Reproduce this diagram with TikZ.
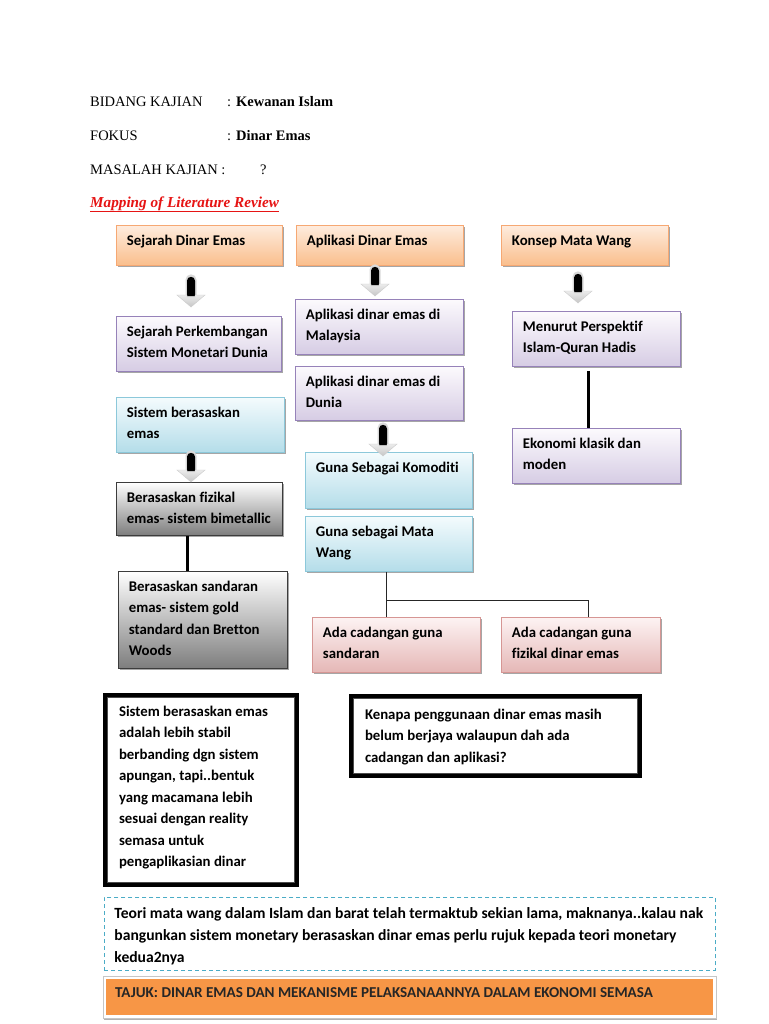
\documentclass[tikz,border=0pt]{standalone}
\usepackage{fontspec}
\usetikzlibrary{shadows,calc}
\newfontfamily\calfont[Ligatures={NoCommon,NoContextual},Contextuals=NoAlternate]{Carlito}
\newfontfamily\tnrfont{Liberation Serif}
\definecolor{or1}{RGB}{254,236,222}
\definecolor{or2}{RGB}{250,190,140}
\definecolor{or3}{RGB}{246,168,115}
\definecolor{pu1}{RGB}{252,250,253}
\definecolor{pu2}{RGB}{214,204,228}
\definecolor{pu3}{RGB}{150,130,185}
\definecolor{bl1}{RGB}{244,251,253}
\definecolor{bl2}{RGB}{180,221,233}
\definecolor{bl3}{RGB}{140,200,218}
\definecolor{gr1}{RGB}{255,255,255}
\definecolor{gr2}{RGB}{125,125,125}
\definecolor{gr3}{RGB}{60,60,60}
\definecolor{pk1}{RGB}{253,243,243}
\definecolor{pk2}{RGB}{229,183,182}
\definecolor{pk3}{RGB}{214,150,148}
\definecolor{tajuk}{RGB}{247,150,70}
\definecolor{dashc}{RGB}{75,172,198}
\definecolor{mapred}{RGB}{230,20,20}
\newcommand\bt[3]{\parbox[c][#2pt][t]{#1pt}{\raggedright\leftskip=10.5pt\rule{0pt}{20pt}#3}}
\newcommand\barrow[5]{%
  \path let \p1=(#1.south), \p2=(#2.north) in
    coordinate (ta) at (#3pt,\y1-#4pt) coordinate (tb) at (#3pt,\y2+#5pt);
  \fill[gray!30] let \p1=(ta), \p2=(tb) in
    (\x1-5.5pt,\y2+9pt) -- (\x1-5.5pt,\y1-1pt) arc[start angle=180,end angle=0,radius=5.5pt] -- (\x1+5.5pt,\y2+9pt) -- cycle;
  \fill[black] let \p1=(ta), \p2=(tb) in
    (\x1-4pt,\y2+11pt) -- (\x1-4pt,\y1-2pt) arc[start angle=180,end angle=0,radius=4pt] -- (\x1+4pt,\y2+11pt) -- cycle;
  \shade[top color=gray!15, bottom color=gray!45, draw=gray!40, line width=0.4pt] let \p1=(ta), \p2=(tb) in
    (\x1-14pt,\y2+12pt) -- (\x1-4pt,\y2+12pt) -- (\x1-4pt,\y2+10pt) -- (\x1+4pt,\y2+10pt) -- (\x1+4pt,\y2+12pt) -- (\x1+14pt,\y2+12pt) -- (\x2,\y2) -- cycle;
}
\tikzset{
  bx/.style={rectangle, inner sep=0pt, anchor=north west, line width=0.8pt,
    font=\calfont\bfseries\fontsize{14.8}{21.5}\selectfont,
    drop shadow={shadow xshift=1.6pt, shadow yshift=-1.8pt, opacity=.35, fill=black}},
  orng/.style={bx, top color=or1, bottom color=or2, draw=or3},
  purp/.style={bx, top color=pu1, bottom color=pu2, draw=pu3},
  blu/.style={bx, top color=bl1, bottom color=bl2, draw=bl3},
  gry/.style={bx, top color=gr1, bottom color=gr2, draw=gr3},
  pnk/.style={bx, top color=pk1, bottom color=pk2, draw=pk3},
  hdr/.style={anchor=base west, inner sep=0pt, font=\tnrfont\fontsize{14.5}{17}\selectfont},
  frm/.style={rectangle, inner sep=0pt, anchor=north west, draw=black, line width=4pt,
    font=\calfont\bfseries\fontsize{14.8}{21.5}\selectfont},
  thickline/.style={line width=2.6pt, black},
  treeline/.style={line width=1.1pt, black!85},
}
\begin{document}
\begin{tikzpicture}[x=1pt,y=-1pt]
\useasboundingbox (0,0) rectangle (768,1024);
\fill[white] (0,0) rectangle (768,1024);
% header
\node[hdr] (bk) at (90,107) {BIDANG KAJIAN};
\node[hdr] (bkv) at (227,107) {: \textbf{Kewanan Islam}};
\node[hdr] (fk) at (90,141) {FOKUS};
\node[hdr] (fkv) at (227,141) {: \textbf{Dinar Emas}};
\node[hdr] (mk) at (90,175) {MASALAH KAJIAN :};
\node[hdr] (mkv) at (260,175) {?};
\node[hdr, text=mapred, font=\tnrfont\fontsize{15.2}{17}\selectfont] (map) at (90,208) {\textbf{\textit{Mapping of Literature Review}}};
\draw[mapred, line width=0.9pt] (90,211) -- (map.base east |- 0,211);
% top row
\node[orng] (sde) at (116,225) {\bt{166}{40}{Sejarah Dinar Emas}};
\node[orng] (ade) at (296,225) {\bt{167}{40}{Aplikasi Dinar Emas}};
\node[orng] (kmw) at (501,225) {\bt{167}{40}{Konsep Mata Wang}};
% left column
\node[purp] (sp) at (116,316) {\bt{165}{55}{Sejarah Perkembangan\\Sistem Monetari Dunia}};
\node[blu] (sbe) at (116,397) {\bt{168}{55}{Sistem berasaskan\\emas}};
\node[gry] (bf) at (116,482) {\bt{166}{53}{Berasaskan fizikal\\emas- sistem bimetallic}};
\node[gry] (bsg) at (118,571) {\bt{169}{97}{Berasaskan sandaran\\emas- sistem gold\\standard dan Bretton\\Woods}};
% middle column
\node[purp] (adm) at (295,299) {\bt{168}{55}{Aplikasi dinar emas di\\Malaysia}};
\node[purp] (add) at (295,366) {\bt{168}{54}{Aplikasi dinar emas di\\Dunia}};
\node[blu] (gsk) at (305,452) {\bt{167}{56}{Guna Sebagai Komoditi}};
\node[blu] (gsm) at (305,516) {\bt{167}{55}{Guna sebagai Mata\\Wang}};
\node[pnk] (acs) at (312,617) {\bt{168}{55}{Ada cadangan guna\\sandaran}};
\node[pnk] (afd) at (501,617) {\bt{159}{55}{Ada cadangan guna\\fizikal dinar emas}};
% right column
\node[purp] (mp) at (512,311) {\bt{168}{55}{Menurut Perspektif\\Islam-Quran Hadis}};
\node[purp] (eks) at (512,428) {\bt{168}{55}{Ekonomi klasik dan\\moden}};
% block arrows
\barrow{sde}{sp}{191}{13}{9}
\barrow{ade}{adm}{375}{3}{3}
\barrow{kmw}{mp}{578}{10}{8}
\barrow{sbe}{bf}{191}{2}{0}
\barrow{add}{gsk}{383}{6}{-4}
% lines
\draw[thickline] ([xshift=-12pt]bf.south) -- ([xshift=-12pt]bf.south |- bsg.north);
\draw[thickline] ([xshift=-8pt]mp.south) ++(0,4) -- ([xshift=-8pt]mp.south |- eks.north);
\draw[treeline] ([xshift=-2.5pt]gsm.south) coordinate (j0) -- (j0 |- acs.north);
\draw[treeline] (j0) ++(0,29) -| ([xshift=7.5pt]afd.north);
% framed boxes
\node[frm] (fl) at (103,693) {\parbox[c][190pt][t]{192pt}{\raggedright\leftskip=14pt\rule{0pt}{21pt}Sistem berasaskan emas\\adalah lebih stabil\\berbanding dgn sistem\\apungan, tapi..bentuk\\yang macamana lebih\\sesuai dengan reality\\semasa untuk\\pengaplikasian dinar}};
\draw[line width=0.9pt, black!70] ([xshift=4.5pt,yshift=-4.5pt]fl.north west) rectangle ([xshift=-4.5pt,yshift=4.5pt]fl.south east);
\node[frm] (fr) at (349,694) {\parbox[c][80pt][t]{289pt}{\raggedright\leftskip=14pt\rule{0pt}{23pt}Kenapa penggunaan dinar emas masih\\belum berjaya walaupun dah ada\\cadangan dan aplikasi?}};
\draw[line width=0.9pt, black!70] ([xshift=4.5pt,yshift=-4.5pt]fr.north west) rectangle ([xshift=-4.5pt,yshift=4.5pt]fr.south east);
% dashed box
\node[rectangle, inner sep=0pt, anchor=north west, draw=dashc, line width=0.9pt, dash pattern=on 4pt off 3pt,
  font=\calfont\bfseries\fontsize{15.6}{22}\selectfont] (teori) at (104,897)
  {\parbox[c][73pt][t]{611pt}{\raggedright\leftskip=10pt\rule{0pt}{21pt}Teori mata wang dalam Islam dan barat telah termaktub sekian lama, maknanya..kalau nak\\bangunkan sistem monetary berasaskan dinar emas perlu rujuk kepada teori monetary\\kedua2nya}};
% title bar
\node[rectangle, inner sep=0pt, anchor=north west, fill=white, draw=gray!45, line width=0.6pt,
  drop shadow={shadow xshift=1pt, shadow yshift=-2pt, opacity=.3, fill=black}] (tbar) at (103,976)
  {\parbox[c][42pt][t]{613pt}{\mbox{}}};
\node[rectangle, inner sep=0pt, anchor=north west, fill=tajuk,
  font=\calfont\bfseries\fontsize{15.1}{21.5}\selectfont, text=black!85] (tajuk) at (106,979)
  {\parbox[c][36pt][t]{607pt}{\raggedright\leftskip=9pt\rule{0pt}{18pt}TAJUK: DINAR EMAS DAN MEKANISME PELAKSANAANNYA DALAM EKONOMI SEMASA}};
\end{tikzpicture}
\end{document}
